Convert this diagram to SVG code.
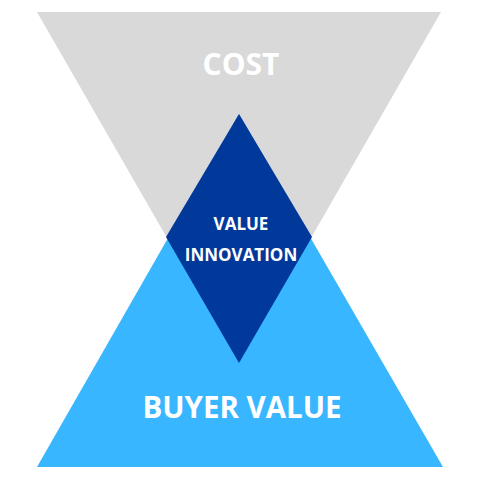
<svg xmlns="http://www.w3.org/2000/svg" width="480" height="480" viewBox="0 0 480 480">
<style>
text{font-family:"Open Sans","Noto Sans","Liberation Sans",sans-serif;font-weight:bold;fill:#ffffff;text-anchor:middle}
</style>
<rect width="480" height="480" fill="#ffffff"/>
<g id="cost">
<polygon points="37,12 441,12 239,363" fill="#d9d9d9"/>
<text x="241" y="75" font-size="30">COST</text>
</g>
<g id="buyer-value">
<polygon points="37,467 443,467 239,114" fill="#38b6ff"/>
<text x="242" y="418" font-size="29.5">BUYER VALUE</text>
</g>
<g id="value-innovation">
<polygon points="239,114 312,237 239,363 166,237" fill="#01399b"/>
<text x="241" y="230" font-size="17">VALUE</text>
<text x="241" y="261" font-size="17">INNOVATION</text>
</g>
<g id="connectors"/>
</svg>
